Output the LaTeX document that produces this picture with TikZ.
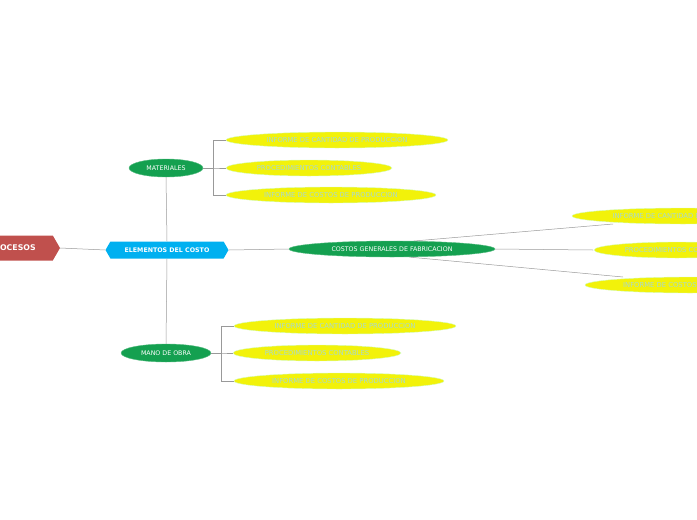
\documentclass[tikz,border=0pt]{standalone}
\usepackage{fontspec}
\setmainfont{DejaVu Sans}
\usetikzlibrary{shapes.symbols,shapes.geometric}
\definecolor{yel}{HTML}{F2F20A}
\definecolor{ytxt}{HTML}{A8D8D0}
\definecolor{grn}{HTML}{14A050}
\definecolor{cy}{HTML}{00B0F0}
\definecolor{rd}{HTML}{C0504D}
\tikzset{
 yl/.style={ellipse,fill=yel,draw=yel!60!cyan!40,line width=0.4pt,minimum height=16pt,inner sep=0pt,font=\fontsize{6.8}{7}\selectfont,text=ytxt},
 gr/.style={ellipse,fill=grn,draw=grn!70!white,minimum height=18pt,inner sep=0pt,font=\fontsize{6.3}{7}\selectfont,text=white},
 hx/.style={signal,signal to=east and west,signal pointer angle=120,inner sep=0pt,font=\bfseries\fontsize{6.3}{7}\selectfont,text=white},
 ln/.style={draw=gray!80,line width=0.5pt}
}
\begin{document}
\begin{tikzpicture}[x=1pt,y=-1pt]
\useasboundingbox (0,0) rectangle (697,520);
\node[hx,fill=rd,minimum width=110pt,minimum height=25pt,font=\bfseries\fontsize{7.8}{8}\selectfont] (p) at (5,248) {\hspace*{14pt}PROCESOS};
\node[hx,fill=cy,minimum width=123pt,minimum height=17pt] (e) at (167,250) {ELEMENTOS DEL COSTO};
\node[gr,minimum width=74pt] (m) at (166,168) {MATERIALES};
\node[gr,minimum width=90pt] (mo) at (166,353) {MANO DE OBRA};
\node[gr,minimum width=206pt,minimum height=16pt] (c) at (392,249) {COSTOS GENERALES DE FABRICACION};
\node[yl,minimum width=222pt] (m1) at (337,140) {INFORME DE CANTIDAD DE PRODUCCION};
\node[yl,minimum width=166pt] (m2) at (309,168) {PROCEDIMIENTOS CONTABLES};
\node[yl,minimum width=210pt] (m3) at (331,195) {INFORME DE COSTOS DE PRODUCCION};
\node[yl,minimum width=222pt] (o1) at (345,326) {INFORME DE CANTIDAD DE PRODUCCION};
\node[yl,minimum width=168pt] (o2) at (317,353) {PROCEDIMIENTOS CONTABLES};
\node[yl,minimum width=210pt] (o3) at (339,381) {INFORME DE COSTOS DE PRODUCCION};
\node[yl,minimum width=222pt] (r1) at (683,216) {INFORME DE CANTIDAD DE PRODUCCION};
\node[yl,minimum width=166pt] (r2) at (677,250) {PROCEDIMIENTOS CONTABLES};
\node[yl,minimum width=210pt] (r3) at (690,285) {INFORME DE COSTOS DE PRODUCCION};
\draw[ln] (p.east) -- (e.west);
\draw[ln] (e.north) -- (m.south);
\draw[ln] (e.south) -- (mo.north);
\draw[ln] (e.east) -- (c.west);
\foreach \a/\b in {m/m1,m/m2,m/m3,mo/o1,mo/o2,mo/o3}{
 \draw[ln] (\a.east) -- ++(10,0) |- (\b.west);}
\coordinate (k1) at (613,224);
\coordinate (k2) at (593,250);
\coordinate (k3) at (623,277);
\draw[ln] (c.20) -- (k1);
\draw[ln] (c.east) -- (k2);
\draw[ln] (c.-25) -- (k3);
\end{tikzpicture}
\end{document}
